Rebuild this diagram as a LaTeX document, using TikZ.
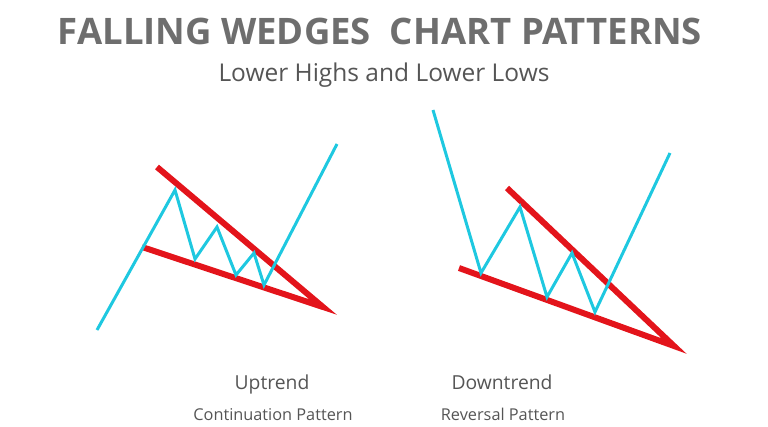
\documentclass[tikz,border=0pt]{standalone}
\usepackage{fontspec}
\setmainfont{Open Sans}
\definecolor{cyanline}{HTML}{1EC8E0}
\definecolor{redline}{HTML}{E3141B}
\definecolor{titlegray}{HTML}{6E6E6E}
\definecolor{textgray}{HTML}{555555}
\begin{document}
\begin{tikzpicture}[x=1pt,y=-1pt,
  trend/.style={draw=cyanline,line width=3pt,line join=miter,line cap=butt},
  wedge/.style={draw=redline,line width=6pt,line cap=butt,line join=miter},
  lbl/.style={inner sep=0pt,anchor=base,text=textgray}]
\useasboundingbox (0,0) rectangle (768,426);
% title
\node[lbl,text=titlegray,font=\fontsize{36.5}{36.5}\selectfont\bfseries] (title) at (380,44) {FALLING WEDGES\ \ CHART PATTERNS};
\node[lbl,font=\fontsize{24.5}{24.5}\selectfont] (sub) at (384,81) {Lower Highs and Lower Lows};
% left chart
\coordinate (a0) at (97,330);
\coordinate (a1) at (175,190);
\coordinate (a2) at (195,259);
\coordinate (a3) at (217,227);
\coordinate (a4) at (236,275);
\coordinate (a5) at (254,253);
\coordinate (a6) at (264,285);
\coordinate (a7) at (337,144);
\coordinate (ut) at (157,167);
\coordinate (lt) at (142,247);
\coordinate (ax) at (323,307);
\draw[wedge] (ut) -- (ax) -- (lt);
\draw[trend] (a0) -- (a1) -- (a2) -- (a3) -- (a4) -- (a5) -- (a6) -- (a7);
% right chart
\coordinate (b0) at (433,110);
\coordinate (b1) at (481,273);
\coordinate (b2) at (520,207);
\coordinate (b3) at (547,297);
\coordinate (b4) at (572,253);
\coordinate (b5) at (595,312);
\coordinate (b6) at (670,153);
\coordinate (ut2) at (507,188);
\coordinate (lt2) at (459,268);
\coordinate (ax2) at (674,346);
\draw[wedge] (ut2) -- (ax2) -- (lt2);
\draw[trend] (b0) -- (b1) -- (b2) -- (b3) -- (b4) -- (b5) -- (b6);
% labels
\node[lbl,font=\fontsize{19.3}{19.3}\selectfont] (up) at (272,389) {Uptrend};
\node[lbl,font=\fontsize{16.3}{16.3}\selectfont] (cont) at (273,420) {Continuation Pattern};
\node[lbl,font=\fontsize{19.3}{19.3}\selectfont] (down) at (502,389) {Downtrend};
\node[lbl,font=\fontsize{16.3}{16.3}\selectfont] (rev) at (503,420) {Reversal Pattern};
\end{tikzpicture}
\end{document}
